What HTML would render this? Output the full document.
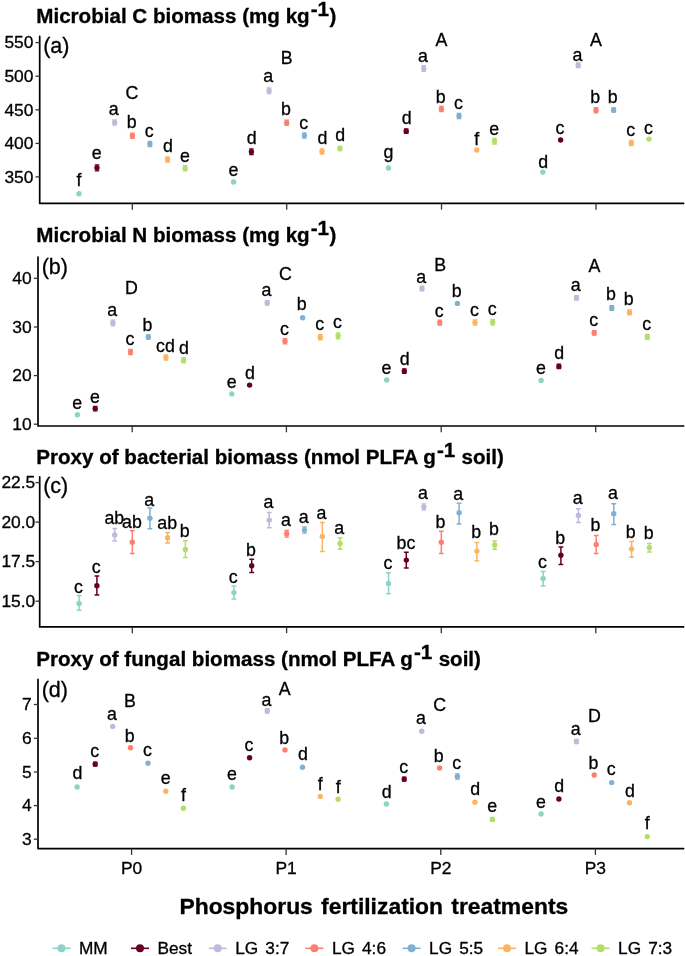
<!DOCTYPE html>
<html lang="en"><head><meta charset="utf-8"><title>Microbial biomass figure</title>
<style>html,body{margin:0;padding:0;background:#fff;overflow:hidden}svg{display:block}text{white-space:pre;stroke:#000;stroke-width:.3px}</style>
</head><body>
<svg width="685" height="956" viewBox="0 0 685 956" font-family='"Liberation Sans", sans-serif'>
<rect width="685" height="956" fill="#fff"/>
<text transform="translate(36.3 23.4) scale(1.061 1)" font-size="19.4" text-anchor="start" font-weight="bold" fill="#000">Microbial C biomass (mg kg<tspan dy="-7.2" dx="1" font-size="19.5">-1</tspan><tspan dy="7.2" dx="0.5">)</tspan></text>
<path d="M39.7 36.4V203.4H683.6" fill="none" stroke="#000" stroke-width="1.7" stroke-linejoin="round" stroke-linecap="round"/>
<path d="M35.5 42.6H39.7" stroke="#333" stroke-width="1.3"/>
<text transform="translate(33.4 48.4) scale(1.0 1)" font-size="17.4" text-anchor="end" fill="#000">550</text>
<path d="M35.5 76.2H39.7" stroke="#333" stroke-width="1.3"/>
<text transform="translate(33.4 82.0) scale(1.0 1)" font-size="17.4" text-anchor="end" fill="#000">500</text>
<path d="M35.5 109.8H39.7" stroke="#333" stroke-width="1.3"/>
<text transform="translate(33.4 115.6) scale(1.0 1)" font-size="17.4" text-anchor="end" fill="#000">450</text>
<path d="M35.5 143.4H39.7" stroke="#333" stroke-width="1.3"/>
<text transform="translate(33.4 149.2) scale(1.0 1)" font-size="17.4" text-anchor="end" fill="#000">400</text>
<path d="M35.5 176.9H39.7" stroke="#333" stroke-width="1.3"/>
<text transform="translate(33.4 182.7) scale(1.0 1)" font-size="17.4" text-anchor="end" fill="#000">350</text>
<path d="M132.3 203.4V209.7" stroke="#333" stroke-width="1.3"/>
<path d="M286.7 203.4V209.7" stroke="#333" stroke-width="1.3"/>
<path d="M441.5 203.4V209.7" stroke="#333" stroke-width="1.3"/>
<path d="M596.0 203.4V209.7" stroke="#333" stroke-width="1.3"/>
<text transform="translate(43.2 53.2) scale(1.0 1)" font-size="21.5" text-anchor="start" fill="#000">(a)</text>
<circle cx="79.0" cy="193.7" r="2.7" fill="#8DD3C7"/>
<text transform="translate(79.0 185.7) scale(1.0 1)" font-size="17.8" text-anchor="middle" fill="#000">f</text>
<path d="M94.7 164.8h4.6M94.7 170.8h4.6M97.0 164.8V170.8" stroke="#67001F" stroke-width="1.3" fill="none"/>
<circle cx="97.0" cy="167.8" r="2.7" fill="#67001F"/>
<text transform="translate(96.8 159.3) scale(1.0 1)" font-size="17.8" text-anchor="middle" fill="#000">e</text>
<path d="M112.3 120.0h4.6M112.3 125.2h4.6M114.6 120.0V125.2" stroke="#BEBADA" stroke-width="1.3" fill="none"/>
<circle cx="114.6" cy="122.6" r="2.7" fill="#BEBADA"/>
<text transform="translate(113.8 115.0) scale(1.0 1)" font-size="17.8" text-anchor="middle" fill="#000">a</text>
<path d="M130.1 133.1h4.6M130.1 138.3h4.6M132.4 133.1V138.3" stroke="#FB8072" stroke-width="1.3" fill="none"/>
<circle cx="132.4" cy="135.7" r="2.7" fill="#FB8072"/>
<text transform="translate(131.6 128.3) scale(1.0 1)" font-size="17.8" text-anchor="middle" fill="#000">b</text>
<path d="M147.6 141.4h4.6M147.6 146.6h4.6M149.9 141.4V146.6" stroke="#80B1D3" stroke-width="1.3" fill="none"/>
<circle cx="149.9" cy="144.0" r="2.7" fill="#80B1D3"/>
<text transform="translate(149.3 137.0) scale(1.0 1)" font-size="17.8" text-anchor="middle" fill="#000">c</text>
<path d="M165.2 157.0h4.6M165.2 162.2h4.6M167.5 157.0V162.2" stroke="#FDB462" stroke-width="1.3" fill="none"/>
<circle cx="167.5" cy="159.6" r="2.7" fill="#FDB462"/>
<text transform="translate(167.9 151.6) scale(1.0 1)" font-size="17.8" text-anchor="middle" fill="#000">d</text>
<path d="M182.8 165.7h4.6M182.8 170.9h4.6M185.1 165.7V170.9" stroke="#B3DE69" stroke-width="1.3" fill="none"/>
<circle cx="185.1" cy="168.3" r="2.7" fill="#B3DE69"/>
<text transform="translate(184.9 162.3) scale(1.0 1)" font-size="17.8" text-anchor="middle" fill="#000">e</text>
<circle cx="233.6" cy="182.0" r="2.7" fill="#8DD3C7"/>
<text transform="translate(233.4 176.0) scale(1.0 1)" font-size="17.8" text-anchor="middle" fill="#000">e</text>
<path d="M249.1 148.9h4.6M249.1 154.5h4.6M251.4 148.9V154.5" stroke="#67001F" stroke-width="1.3" fill="none"/>
<circle cx="251.4" cy="151.7" r="2.7" fill="#67001F"/>
<text transform="translate(251.8 143.7) scale(1.0 1)" font-size="17.8" text-anchor="middle" fill="#000">d</text>
<path d="M266.8 88.0h4.6M266.8 93.6h4.6M269.1 88.0V93.6" stroke="#BEBADA" stroke-width="1.3" fill="none"/>
<circle cx="269.1" cy="90.8" r="2.7" fill="#BEBADA"/>
<text transform="translate(268.3 82.4) scale(1.0 1)" font-size="17.8" text-anchor="middle" fill="#000">a</text>
<path d="M284.4 120.2h4.6M284.4 125.4h4.6M286.7 120.2V125.4" stroke="#FB8072" stroke-width="1.3" fill="none"/>
<circle cx="286.7" cy="122.8" r="2.7" fill="#FB8072"/>
<text transform="translate(285.9 114.8) scale(1.0 1)" font-size="17.8" text-anchor="middle" fill="#000">b</text>
<path d="M302.1 133.0h4.6M302.1 138.2h4.6M304.4 133.0V138.2" stroke="#80B1D3" stroke-width="1.3" fill="none"/>
<circle cx="304.4" cy="135.6" r="2.7" fill="#80B1D3"/>
<text transform="translate(303.8 128.6) scale(1.0 1)" font-size="17.8" text-anchor="middle" fill="#000">c</text>
<path d="M319.7 148.8h4.6M319.7 154.0h4.6M322.0 148.8V154.0" stroke="#FDB462" stroke-width="1.3" fill="none"/>
<circle cx="322.0" cy="151.4" r="2.7" fill="#FDB462"/>
<text transform="translate(322.4 144.4) scale(1.0 1)" font-size="17.8" text-anchor="middle" fill="#000">d</text>
<path d="M337.6 146.3h4.6M337.6 150.7h4.6M339.9 146.3V150.7" stroke="#B3DE69" stroke-width="1.3" fill="none"/>
<circle cx="339.9" cy="148.5" r="2.7" fill="#B3DE69"/>
<text transform="translate(340.3 141.3) scale(1.0 1)" font-size="17.8" text-anchor="middle" fill="#000">d</text>
<circle cx="388.5" cy="168.0" r="2.7" fill="#8DD3C7"/>
<text transform="translate(388.5 158.0) scale(1.0 1)" font-size="17.8" text-anchor="middle" fill="#000">g</text>
<path d="M403.9 129.0h4.6M403.9 133.4h4.6M406.2 129.0V133.4" stroke="#67001F" stroke-width="1.3" fill="none"/>
<circle cx="406.2" cy="131.2" r="2.7" fill="#67001F"/>
<text transform="translate(406.6 124.0) scale(1.0 1)" font-size="17.8" text-anchor="middle" fill="#000">d</text>
<path d="M421.5 65.7h4.6M421.5 71.3h4.6M423.8 65.7V71.3" stroke="#BEBADA" stroke-width="1.3" fill="none"/>
<circle cx="423.8" cy="68.5" r="2.7" fill="#BEBADA"/>
<text transform="translate(423.0 62.1) scale(1.0 1)" font-size="17.8" text-anchor="middle" fill="#000">a</text>
<path d="M439.1 106.4h4.6M439.1 111.6h4.6M441.4 106.4V111.6" stroke="#FB8072" stroke-width="1.3" fill="none"/>
<circle cx="441.4" cy="109.0" r="2.7" fill="#FB8072"/>
<text transform="translate(440.6 102.8) scale(1.0 1)" font-size="17.8" text-anchor="middle" fill="#000">b</text>
<path d="M456.7 113.4h4.6M456.7 118.6h4.6M459.0 113.4V118.6" stroke="#80B1D3" stroke-width="1.3" fill="none"/>
<circle cx="459.0" cy="116.0" r="2.7" fill="#80B1D3"/>
<text transform="translate(458.4 109.0) scale(1.0 1)" font-size="17.8" text-anchor="middle" fill="#000">c</text>
<circle cx="476.7" cy="150.0" r="2.7" fill="#FDB462"/>
<text transform="translate(476.7 144.6) scale(1.0 1)" font-size="17.8" text-anchor="middle" fill="#000">f</text>
<path d="M492.2 138.4h4.6M492.2 144.0h4.6M494.5 138.4V144.0" stroke="#B3DE69" stroke-width="1.3" fill="none"/>
<circle cx="494.5" cy="141.2" r="2.7" fill="#B3DE69"/>
<text transform="translate(494.3 135.2) scale(1.0 1)" font-size="17.8" text-anchor="middle" fill="#000">e</text>
<circle cx="542.8" cy="172.1" r="2.7" fill="#8DD3C7"/>
<text transform="translate(543.2 167.6) scale(1.0 1)" font-size="17.8" text-anchor="middle" fill="#000">d</text>
<circle cx="560.6" cy="140.0" r="2.7" fill="#67001F"/>
<text transform="translate(560.0 134.4) scale(1.0 1)" font-size="17.8" text-anchor="middle" fill="#000">c</text>
<path d="M575.9 62.9h4.6M575.9 67.7h4.6M578.2 62.9V67.7" stroke="#BEBADA" stroke-width="1.3" fill="none"/>
<circle cx="578.2" cy="65.3" r="2.7" fill="#BEBADA"/>
<text transform="translate(577.4 60.6) scale(1.0 1)" font-size="17.8" text-anchor="middle" fill="#000">a</text>
<path d="M593.7 107.6h4.6M593.7 112.8h4.6M596.0 107.6V112.8" stroke="#FB8072" stroke-width="1.3" fill="none"/>
<circle cx="596.0" cy="110.2" r="2.7" fill="#FB8072"/>
<text transform="translate(595.2 103.4) scale(1.0 1)" font-size="17.8" text-anchor="middle" fill="#000">b</text>
<path d="M611.3 107.8h4.6M611.3 112.2h4.6M613.6 107.8V112.2" stroke="#80B1D3" stroke-width="1.3" fill="none"/>
<circle cx="613.6" cy="110.0" r="2.7" fill="#80B1D3"/>
<text transform="translate(612.8 103.2) scale(1.0 1)" font-size="17.8" text-anchor="middle" fill="#000">b</text>
<path d="M629.0 140.4h4.6M629.0 145.6h4.6M631.3 140.4V145.6" stroke="#FDB462" stroke-width="1.3" fill="none"/>
<circle cx="631.3" cy="143.0" r="2.7" fill="#FDB462"/>
<text transform="translate(630.7 136.0) scale(1.0 1)" font-size="17.8" text-anchor="middle" fill="#000">c</text>
<circle cx="649.0" cy="139.1" r="2.7" fill="#B3DE69"/>
<text transform="translate(648.4 134.1) scale(1.0 1)" font-size="17.8" text-anchor="middle" fill="#000">c</text>
<text transform="translate(131.9 99.2) scale(1.0 1)" font-size="17.8" text-anchor="middle" fill="#000">C</text>
<text transform="translate(286.8 63.9) scale(1.0 1)" font-size="17.8" text-anchor="middle" fill="#000">B</text>
<text transform="translate(441.5 46.2) scale(1.0 1)" font-size="17.8" text-anchor="middle" fill="#000">A</text>
<text transform="translate(596.0 45.7) scale(1.0 1)" font-size="17.8" text-anchor="middle" fill="#000">A</text>
<text transform="translate(36.3 242.2) scale(1.061 1)" font-size="19.4" text-anchor="start" font-weight="bold" fill="#000">Microbial N biomass (mg kg<tspan dy="-7.2" dx="1" font-size="19.5">-1</tspan><tspan dy="7.2" dx="0.5">)</tspan></text>
<path d="M38.0 257.0V426.0H683.6" fill="none" stroke="#000" stroke-width="1.7" stroke-linejoin="round" stroke-linecap="round"/>
<path d="M33.8 278.3H38.0" stroke="#333" stroke-width="1.3"/>
<text transform="translate(31.7 284.1) scale(1.0 1)" font-size="17.4" text-anchor="end" fill="#000">40</text>
<path d="M33.8 327.0H38.0" stroke="#333" stroke-width="1.3"/>
<text transform="translate(31.7 332.8) scale(1.0 1)" font-size="17.4" text-anchor="end" fill="#000">30</text>
<path d="M33.8 375.6H38.0" stroke="#333" stroke-width="1.3"/>
<text transform="translate(31.7 381.4) scale(1.0 1)" font-size="17.4" text-anchor="end" fill="#000">20</text>
<path d="M33.8 424.2H38.0" stroke="#333" stroke-width="1.3"/>
<text transform="translate(31.7 430.0) scale(1.0 1)" font-size="17.4" text-anchor="end" fill="#000">10</text>
<path d="M132.2 426.0V432.3" stroke="#333" stroke-width="1.3"/>
<path d="M286.4 426.0V432.3" stroke="#333" stroke-width="1.3"/>
<path d="M441.2 426.0V432.3" stroke="#333" stroke-width="1.3"/>
<path d="M595.7 426.0V432.3" stroke="#333" stroke-width="1.3"/>
<text transform="translate(41.7 274.3) scale(1.0 1)" font-size="21.5" text-anchor="start" fill="#000">(b)</text>
<circle cx="77.4" cy="414.7" r="2.7" fill="#8DD3C7"/>
<text transform="translate(77.2 409.3) scale(1.0 1)" font-size="17.8" text-anchor="middle" fill="#000">e</text>
<path d="M92.9 406.4h4.6M92.9 410.8h4.6M95.2 406.4V410.8" stroke="#67001F" stroke-width="1.3" fill="none"/>
<circle cx="95.2" cy="408.6" r="2.7" fill="#67001F"/>
<text transform="translate(95.0 402.8) scale(1.0 1)" font-size="17.8" text-anchor="middle" fill="#000">e</text>
<path d="M110.6 320.2h4.6M110.6 325.8h4.6M112.9 320.2V325.8" stroke="#BEBADA" stroke-width="1.3" fill="none"/>
<circle cx="112.9" cy="323.0" r="2.7" fill="#BEBADA"/>
<text transform="translate(112.1 315.6) scale(1.0 1)" font-size="17.8" text-anchor="middle" fill="#000">a</text>
<path d="M128.2 349.4h4.6M128.2 354.6h4.6M130.5 349.4V354.6" stroke="#FB8072" stroke-width="1.3" fill="none"/>
<circle cx="130.5" cy="352.0" r="2.7" fill="#FB8072"/>
<text transform="translate(129.9 345.0) scale(1.0 1)" font-size="17.8" text-anchor="middle" fill="#000">c</text>
<path d="M146.0 334.8h4.6M146.0 339.2h4.6M148.3 334.8V339.2" stroke="#80B1D3" stroke-width="1.3" fill="none"/>
<circle cx="148.3" cy="337.0" r="2.7" fill="#80B1D3"/>
<text transform="translate(147.5 330.6) scale(1.0 1)" font-size="17.8" text-anchor="middle" fill="#000">b</text>
<path d="M163.6 355.0h4.6M163.6 360.2h4.6M165.9 355.0V360.2" stroke="#FDB462" stroke-width="1.3" fill="none"/>
<circle cx="165.9" cy="357.6" r="2.7" fill="#FDB462"/>
<text transform="translate(165.5 352.2) scale(1.0 1)" font-size="17.8" text-anchor="middle" fill="#000">cd</text>
<path d="M181.3 357.6h4.6M181.3 362.8h4.6M183.6 357.6V362.8" stroke="#B3DE69" stroke-width="1.3" fill="none"/>
<circle cx="183.6" cy="360.2" r="2.7" fill="#B3DE69"/>
<text transform="translate(184.0 354.0) scale(1.0 1)" font-size="17.8" text-anchor="middle" fill="#000">d</text>
<circle cx="231.8" cy="393.9" r="2.7" fill="#8DD3C7"/>
<text transform="translate(231.6 387.5) scale(1.0 1)" font-size="17.8" text-anchor="middle" fill="#000">e</text>
<circle cx="249.6" cy="385.1" r="2.7" fill="#67001F"/>
<text transform="translate(250.0 379.3) scale(1.0 1)" font-size="17.8" text-anchor="middle" fill="#000">d</text>
<path d="M264.9 300.6h4.6M264.9 305.0h4.6M267.2 300.6V305.0" stroke="#BEBADA" stroke-width="1.3" fill="none"/>
<circle cx="267.2" cy="302.8" r="2.7" fill="#BEBADA"/>
<text transform="translate(266.4 296.0) scale(1.0 1)" font-size="17.8" text-anchor="middle" fill="#000">a</text>
<path d="M282.7 338.7h4.6M282.7 343.9h4.6M285.0 338.7V343.9" stroke="#FB8072" stroke-width="1.3" fill="none"/>
<circle cx="285.0" cy="341.3" r="2.7" fill="#FB8072"/>
<text transform="translate(284.4 334.5) scale(1.0 1)" font-size="17.8" text-anchor="middle" fill="#000">c</text>
<circle cx="302.6" cy="317.7" r="2.7" fill="#80B1D3"/>
<text transform="translate(301.8 310.3) scale(1.0 1)" font-size="17.8" text-anchor="middle" fill="#000">b</text>
<path d="M318.0 334.6h4.6M318.0 339.8h4.6M320.3 334.6V339.8" stroke="#FDB462" stroke-width="1.3" fill="none"/>
<circle cx="320.3" cy="337.2" r="2.7" fill="#FDB462"/>
<text transform="translate(319.7 329.8) scale(1.0 1)" font-size="17.8" text-anchor="middle" fill="#000">c</text>
<path d="M335.8 332.8h4.6M335.8 338.8h4.6M338.1 332.8V338.8" stroke="#B3DE69" stroke-width="1.3" fill="none"/>
<circle cx="338.1" cy="335.8" r="2.7" fill="#B3DE69"/>
<text transform="translate(337.5 328.4) scale(1.0 1)" font-size="17.8" text-anchor="middle" fill="#000">c</text>
<circle cx="386.7" cy="379.9" r="2.7" fill="#8DD3C7"/>
<text transform="translate(386.5 373.9) scale(1.0 1)" font-size="17.8" text-anchor="middle" fill="#000">e</text>
<path d="M402.0 368.9h4.6M402.0 373.3h4.6M404.3 368.9V373.3" stroke="#67001F" stroke-width="1.3" fill="none"/>
<circle cx="404.3" cy="371.1" r="2.7" fill="#67001F"/>
<text transform="translate(404.7 364.7) scale(1.0 1)" font-size="17.8" text-anchor="middle" fill="#000">d</text>
<path d="M419.7 286.1h4.6M419.7 290.9h4.6M422.0 286.1V290.9" stroke="#BEBADA" stroke-width="1.3" fill="none"/>
<circle cx="422.0" cy="288.5" r="2.7" fill="#BEBADA"/>
<text transform="translate(421.2 282.7) scale(1.0 1)" font-size="17.8" text-anchor="middle" fill="#000">a</text>
<path d="M437.5 320.2h4.6M437.5 325.0h4.6M439.8 320.2V325.0" stroke="#FB8072" stroke-width="1.3" fill="none"/>
<circle cx="439.8" cy="322.6" r="2.7" fill="#FB8072"/>
<text transform="translate(439.2 316.6) scale(1.0 1)" font-size="17.8" text-anchor="middle" fill="#000">c</text>
<circle cx="457.4" cy="303.4" r="2.7" fill="#80B1D3"/>
<text transform="translate(456.6 297.4) scale(1.0 1)" font-size="17.8" text-anchor="middle" fill="#000">b</text>
<path d="M472.7 320.0h4.6M472.7 325.2h4.6M475.0 320.0V325.2" stroke="#FDB462" stroke-width="1.3" fill="none"/>
<circle cx="475.0" cy="322.6" r="2.7" fill="#FDB462"/>
<text transform="translate(474.4 316.0) scale(1.0 1)" font-size="17.8" text-anchor="middle" fill="#000">c</text>
<path d="M490.4 319.5h4.6M490.4 325.1h4.6M492.7 319.5V325.1" stroke="#B3DE69" stroke-width="1.3" fill="none"/>
<circle cx="492.7" cy="322.3" r="2.7" fill="#B3DE69"/>
<text transform="translate(492.1 314.9) scale(1.0 1)" font-size="17.8" text-anchor="middle" fill="#000">c</text>
<circle cx="541.1" cy="380.4" r="2.7" fill="#8DD3C7"/>
<text transform="translate(540.9 374.0) scale(1.0 1)" font-size="17.8" text-anchor="middle" fill="#000">e</text>
<path d="M556.6 364.2h4.6M556.6 368.6h4.6M558.9 364.2V368.6" stroke="#67001F" stroke-width="1.3" fill="none"/>
<circle cx="558.9" cy="366.4" r="2.7" fill="#67001F"/>
<text transform="translate(559.3 359.4) scale(1.0 1)" font-size="17.8" text-anchor="middle" fill="#000">d</text>
<path d="M574.2 295.6h4.6M574.2 300.0h4.6M576.5 295.6V300.0" stroke="#BEBADA" stroke-width="1.3" fill="none"/>
<circle cx="576.5" cy="297.8" r="2.7" fill="#BEBADA"/>
<text transform="translate(575.7 291.0) scale(1.0 1)" font-size="17.8" text-anchor="middle" fill="#000">a</text>
<path d="M591.9 330.6h4.6M591.9 335.0h4.6M594.2 330.6V335.0" stroke="#FB8072" stroke-width="1.3" fill="none"/>
<circle cx="594.2" cy="332.8" r="2.7" fill="#FB8072"/>
<text transform="translate(593.6 325.8) scale(1.0 1)" font-size="17.8" text-anchor="middle" fill="#000">c</text>
<path d="M609.5 305.6h4.6M609.5 310.4h4.6M611.8 305.6V310.4" stroke="#80B1D3" stroke-width="1.3" fill="none"/>
<circle cx="611.8" cy="308.0" r="2.7" fill="#80B1D3"/>
<text transform="translate(611.0 300.0) scale(1.0 1)" font-size="17.8" text-anchor="middle" fill="#000">b</text>
<path d="M627.2 310.0h4.6M627.2 314.8h4.6M629.5 310.0V314.8" stroke="#FDB462" stroke-width="1.3" fill="none"/>
<circle cx="629.5" cy="312.4" r="2.7" fill="#FDB462"/>
<text transform="translate(628.7 305.0) scale(1.0 1)" font-size="17.8" text-anchor="middle" fill="#000">b</text>
<path d="M645.0 334.5h4.6M645.0 339.3h4.6M647.3 334.5V339.3" stroke="#B3DE69" stroke-width="1.3" fill="none"/>
<circle cx="647.3" cy="336.9" r="2.7" fill="#B3DE69"/>
<text transform="translate(646.7 330.1) scale(1.0 1)" font-size="17.8" text-anchor="middle" fill="#000">c</text>
<text transform="translate(131.4 294.2) scale(1.0 1)" font-size="17.8" text-anchor="middle" fill="#000">D</text>
<text transform="translate(285.5 279.8) scale(1.0 1)" font-size="17.8" text-anchor="middle" fill="#000">C</text>
<text transform="translate(440.1 270.6) scale(1.0 1)" font-size="17.8" text-anchor="middle" fill="#000">B</text>
<text transform="translate(594.5 271.9) scale(1.0 1)" font-size="17.8" text-anchor="middle" fill="#000">A</text>
<text transform="translate(36.3 463.8) scale(1.061 1)" font-size="19.4" text-anchor="start" font-weight="bold" fill="#000">Proxy of bacterial biomass (nmol PLFA g<tspan dy="-7.2" dx="1" font-size="19.5">-1</tspan><tspan dy="7.2" dx="0.5"> soil)</tspan></text>
<path d="M39.7 476.8V626.9H683.6" fill="none" stroke="#000" stroke-width="1.7" stroke-linejoin="round" stroke-linecap="round"/>
<path d="M35.5 482.6H39.7" stroke="#333" stroke-width="1.3"/>
<text transform="translate(35.3 488.4) scale(1.0 1)" font-size="17.4" text-anchor="end" fill="#000">22.5</text>
<path d="M35.5 522.1H39.7" stroke="#333" stroke-width="1.3"/>
<text transform="translate(35.3 527.9) scale(1.0 1)" font-size="17.4" text-anchor="end" fill="#000">20.0</text>
<path d="M35.5 561.6H39.7" stroke="#333" stroke-width="1.3"/>
<text transform="translate(35.3 567.4) scale(1.0 1)" font-size="17.4" text-anchor="end" fill="#000">17.5</text>
<path d="M35.5 601.2H39.7" stroke="#333" stroke-width="1.3"/>
<text transform="translate(35.3 607.0) scale(1.0 1)" font-size="17.4" text-anchor="end" fill="#000">15.0</text>
<path d="M132.3 626.9V633.2" stroke="#333" stroke-width="1.3"/>
<path d="M286.6 626.9V633.2" stroke="#333" stroke-width="1.3"/>
<path d="M441.3 626.9V633.2" stroke="#333" stroke-width="1.3"/>
<path d="M595.8 626.9V633.2" stroke="#333" stroke-width="1.3"/>
<text transform="translate(43.2 493.3) scale(1.0 1)" font-size="21.5" text-anchor="start" fill="#000">(c)</text>
<path d="M76.7 595.6h4.8M76.7 610.2h4.8M79.1 595.6V610.2" stroke="#8DD3C7" stroke-width="1.5" fill="none"/>
<circle cx="79.1" cy="603.5" r="2.7" fill="#8DD3C7"/>
<text transform="translate(78.5 592.8) scale(1.0 1)" font-size="17.8" text-anchor="middle" fill="#000">c</text>
<path d="M94.5 576.0h4.8M94.5 595.0h4.8M96.9 576.0V595.0" stroke="#67001F" stroke-width="1.5" fill="none"/>
<circle cx="96.9" cy="585.7" r="2.7" fill="#67001F"/>
<text transform="translate(96.3 572.8) scale(1.0 1)" font-size="17.8" text-anchor="middle" fill="#000">c</text>
<path d="M112.3 528.4h4.8M112.3 541.0h4.8M114.7 528.4V541.0" stroke="#BEBADA" stroke-width="1.5" fill="none"/>
<circle cx="114.7" cy="534.9" r="2.7" fill="#BEBADA"/>
<text transform="translate(114.3 523.6) scale(1.0 1)" font-size="17.8" text-anchor="middle" fill="#000">ab</text>
<path d="M129.9 530.8h4.8M129.9 553.5h4.8M132.3 530.8V553.5" stroke="#FB8072" stroke-width="1.5" fill="none"/>
<circle cx="132.3" cy="542.2" r="2.7" fill="#FB8072"/>
<text transform="translate(131.9 528.2) scale(1.0 1)" font-size="17.8" text-anchor="middle" fill="#000">ab</text>
<path d="M147.5 508.0h4.8M147.5 528.7h4.8M149.9 508.0V528.7" stroke="#80B1D3" stroke-width="1.5" fill="none"/>
<circle cx="149.9" cy="518.2" r="2.7" fill="#80B1D3"/>
<text transform="translate(149.1 505.8) scale(1.0 1)" font-size="17.8" text-anchor="middle" fill="#000">a</text>
<path d="M165.2 532.5h4.8M165.2 543.0h4.8M167.6 532.5V543.0" stroke="#FDB462" stroke-width="1.5" fill="none"/>
<circle cx="167.6" cy="537.8" r="2.7" fill="#FDB462"/>
<text transform="translate(167.2 529.1) scale(1.0 1)" font-size="17.8" text-anchor="middle" fill="#000">ab</text>
<path d="M183.0 540.7h4.8M183.0 557.6h4.8M185.4 540.7V557.6" stroke="#B3DE69" stroke-width="1.5" fill="none"/>
<circle cx="185.4" cy="549.5" r="2.7" fill="#B3DE69"/>
<text transform="translate(184.6 536.9) scale(1.0 1)" font-size="17.8" text-anchor="middle" fill="#000">b</text>
<path d="M231.5 586.1h4.8M231.5 599.0h4.8M233.9 586.1V599.0" stroke="#8DD3C7" stroke-width="1.5" fill="none"/>
<circle cx="233.9" cy="592.6" r="2.7" fill="#8DD3C7"/>
<text transform="translate(233.3 583.3) scale(1.0 1)" font-size="17.8" text-anchor="middle" fill="#000">c</text>
<path d="M249.3 559.3h4.8M249.3 572.4h4.8M251.7 559.3V572.4" stroke="#67001F" stroke-width="1.5" fill="none"/>
<circle cx="251.7" cy="565.7" r="2.7" fill="#67001F"/>
<text transform="translate(250.9 555.5) scale(1.0 1)" font-size="17.8" text-anchor="middle" fill="#000">b</text>
<path d="M266.8 512.6h4.8M266.8 527.7h4.8M269.2 512.6V527.7" stroke="#BEBADA" stroke-width="1.5" fill="none"/>
<circle cx="269.2" cy="520.1" r="2.7" fill="#BEBADA"/>
<text transform="translate(268.4 508.0) scale(1.0 1)" font-size="17.8" text-anchor="middle" fill="#000">a</text>
<path d="M284.4 530.5h4.6M284.4 537.2h4.6M286.7 530.5V537.2" stroke="#FB8072" stroke-width="1.3" fill="none"/>
<circle cx="286.7" cy="533.8" r="2.7" fill="#FB8072"/>
<text transform="translate(285.9 525.8) scale(1.0 1)" font-size="17.8" text-anchor="middle" fill="#000">a</text>
<path d="M302.2 527.0h4.6M302.2 533.1h4.6M304.5 527.0V533.1" stroke="#80B1D3" stroke-width="1.3" fill="none"/>
<circle cx="304.5" cy="530.1" r="2.7" fill="#80B1D3"/>
<text transform="translate(303.7 522.7) scale(1.0 1)" font-size="17.8" text-anchor="middle" fill="#000">a</text>
<path d="M319.9 522.5h4.8M319.9 551.4h4.8M322.3 522.5V551.4" stroke="#FDB462" stroke-width="1.5" fill="none"/>
<circle cx="322.3" cy="536.5" r="2.7" fill="#FDB462"/>
<text transform="translate(321.5 518.7) scale(1.0 1)" font-size="17.8" text-anchor="middle" fill="#000">a</text>
<path d="M337.7 537.7h4.8M337.7 549.3h4.8M340.1 537.7V549.3" stroke="#B3DE69" stroke-width="1.5" fill="none"/>
<circle cx="340.1" cy="543.5" r="2.7" fill="#B3DE69"/>
<text transform="translate(339.3 533.9) scale(1.0 1)" font-size="17.8" text-anchor="middle" fill="#000">a</text>
<path d="M386.1 572.7h4.8M386.1 593.7h4.8M388.5 572.7V593.7" stroke="#8DD3C7" stroke-width="1.5" fill="none"/>
<circle cx="388.5" cy="583.5" r="2.7" fill="#8DD3C7"/>
<text transform="translate(387.9 568.9) scale(1.0 1)" font-size="17.8" text-anchor="middle" fill="#000">c</text>
<path d="M403.9 552.3h4.8M403.9 568.0h4.8M406.3 552.3V568.0" stroke="#67001F" stroke-width="1.5" fill="none"/>
<circle cx="406.3" cy="560.1" r="2.7" fill="#67001F"/>
<text transform="translate(405.9 548.5) scale(1.0 1)" font-size="17.8" text-anchor="middle" fill="#000">bc</text>
<path d="M421.5 503.8h4.6M421.5 510.2h4.6M423.8 503.8V510.2" stroke="#BEBADA" stroke-width="1.3" fill="none"/>
<circle cx="423.8" cy="507.0" r="2.7" fill="#BEBADA"/>
<text transform="translate(423.0 499.0) scale(1.0 1)" font-size="17.8" text-anchor="middle" fill="#000">a</text>
<path d="M438.9 531.2h4.8M438.9 553.4h4.8M441.3 531.2V553.4" stroke="#FB8072" stroke-width="1.5" fill="none"/>
<circle cx="441.3" cy="542.3" r="2.7" fill="#FB8072"/>
<text transform="translate(440.5 528.0) scale(1.0 1)" font-size="17.8" text-anchor="middle" fill="#000">b</text>
<path d="M456.7 503.2h4.8M456.7 523.9h4.8M459.1 503.2V523.9" stroke="#80B1D3" stroke-width="1.5" fill="none"/>
<circle cx="459.1" cy="512.8" r="2.7" fill="#80B1D3"/>
<text transform="translate(458.3 500.4) scale(1.0 1)" font-size="17.8" text-anchor="middle" fill="#000">a</text>
<path d="M474.5 542.6h4.8M474.5 560.7h4.8M476.9 542.6V560.7" stroke="#FDB462" stroke-width="1.5" fill="none"/>
<circle cx="476.9" cy="551.1" r="2.7" fill="#FDB462"/>
<text transform="translate(476.1 537.8) scale(1.0 1)" font-size="17.8" text-anchor="middle" fill="#000">b</text>
<path d="M492.3 540.9h4.8M492.3 549.3h4.8M494.7 540.9V549.3" stroke="#B3DE69" stroke-width="1.5" fill="none"/>
<circle cx="494.7" cy="545.0" r="2.7" fill="#B3DE69"/>
<text transform="translate(493.9 535.1) scale(1.0 1)" font-size="17.8" text-anchor="middle" fill="#000">b</text>
<path d="M540.7 571.5h4.8M540.7 586.1h4.8M543.1 571.5V586.1" stroke="#8DD3C7" stroke-width="1.5" fill="none"/>
<circle cx="543.1" cy="578.5" r="2.7" fill="#8DD3C7"/>
<text transform="translate(542.5 567.7) scale(1.0 1)" font-size="17.8" text-anchor="middle" fill="#000">c</text>
<path d="M558.5 547.0h4.8M558.5 564.5h4.8M560.9 547.0V564.5" stroke="#67001F" stroke-width="1.5" fill="none"/>
<circle cx="560.9" cy="555.2" r="2.7" fill="#67001F"/>
<text transform="translate(560.1 543.8) scale(1.0 1)" font-size="17.8" text-anchor="middle" fill="#000">b</text>
<path d="M576.0 508.8h4.8M576.0 522.5h4.8M578.4 508.8V522.5" stroke="#BEBADA" stroke-width="1.5" fill="none"/>
<circle cx="578.4" cy="515.5" r="2.7" fill="#BEBADA"/>
<text transform="translate(577.6 504.4) scale(1.0 1)" font-size="17.8" text-anchor="middle" fill="#000">a</text>
<path d="M593.8 535.6h4.8M593.8 553.4h4.8M596.2 535.6V553.4" stroke="#FB8072" stroke-width="1.5" fill="none"/>
<circle cx="596.2" cy="544.4" r="2.7" fill="#FB8072"/>
<text transform="translate(595.4 530.8) scale(1.0 1)" font-size="17.8" text-anchor="middle" fill="#000">b</text>
<path d="M611.4 503.8h4.8M611.4 524.5h4.8M613.8 503.8V524.5" stroke="#80B1D3" stroke-width="1.5" fill="none"/>
<circle cx="613.8" cy="513.7" r="2.7" fill="#80B1D3"/>
<text transform="translate(613.0 499.4) scale(1.0 1)" font-size="17.8" text-anchor="middle" fill="#000">a</text>
<path d="M629.2 541.5h4.8M629.2 557.2h4.8M631.6 541.5V557.2" stroke="#FDB462" stroke-width="1.5" fill="none"/>
<circle cx="631.6" cy="549.0" r="2.7" fill="#FDB462"/>
<text transform="translate(630.8 537.7) scale(1.0 1)" font-size="17.8" text-anchor="middle" fill="#000">b</text>
<path d="M647.0 543.5h4.8M647.0 552.0h4.8M649.4 543.5V552.0" stroke="#B3DE69" stroke-width="1.5" fill="none"/>
<circle cx="649.4" cy="547.6" r="2.7" fill="#B3DE69"/>
<text transform="translate(648.6 539.1) scale(1.0 1)" font-size="17.8" text-anchor="middle" fill="#000">b</text>
<text transform="translate(36.3 665.7) scale(1.061 1)" font-size="19.4" text-anchor="start" font-weight="bold" fill="#000">Proxy of fungal biomass (nmol PLFA g<tspan dy="-7.2" dx="1" font-size="19.5">-1</tspan><tspan dy="7.2" dx="0.5"> soil)</tspan></text>
<path d="M38.0 679.4V848.6H683.6" fill="none" stroke="#000" stroke-width="1.7" stroke-linejoin="round" stroke-linecap="round"/>
<path d="M33.8 704.5H38.0" stroke="#333" stroke-width="1.3"/>
<text transform="translate(31.7 710.3) scale(1.0 1)" font-size="17.4" text-anchor="end" fill="#000">7</text>
<path d="M33.8 738.3H38.0" stroke="#333" stroke-width="1.3"/>
<text transform="translate(31.7 744.1) scale(1.0 1)" font-size="17.4" text-anchor="end" fill="#000">6</text>
<path d="M33.8 772.0H38.0" stroke="#333" stroke-width="1.3"/>
<text transform="translate(31.7 777.8) scale(1.0 1)" font-size="17.4" text-anchor="end" fill="#000">5</text>
<path d="M33.8 805.6H38.0" stroke="#333" stroke-width="1.3"/>
<text transform="translate(31.7 811.4) scale(1.0 1)" font-size="17.4" text-anchor="end" fill="#000">4</text>
<path d="M33.8 839.2H38.0" stroke="#333" stroke-width="1.3"/>
<text transform="translate(31.7 845.0) scale(1.0 1)" font-size="17.4" text-anchor="end" fill="#000">3</text>
<path d="M131.6 848.6V854.9" stroke="#333" stroke-width="1.3"/>
<text transform="translate(131.6 873.9) scale(1.0 1)" font-size="17.4" text-anchor="middle" fill="#000">P0</text>
<path d="M286.1 848.6V854.9" stroke="#333" stroke-width="1.3"/>
<text transform="translate(286.1 873.9) scale(1.0 1)" font-size="17.4" text-anchor="middle" fill="#000">P1</text>
<path d="M440.8 848.6V854.9" stroke="#333" stroke-width="1.3"/>
<text transform="translate(440.8 873.9) scale(1.0 1)" font-size="17.4" text-anchor="middle" fill="#000">P2</text>
<path d="M595.4 848.6V854.9" stroke="#333" stroke-width="1.3"/>
<text transform="translate(595.4 873.9) scale(1.0 1)" font-size="17.4" text-anchor="middle" fill="#000">P3</text>
<text transform="translate(41.7 696.5) scale(1.0 1)" font-size="21.5" text-anchor="start" fill="#000">(d)</text>
<circle cx="77.1" cy="786.9" r="2.7" fill="#8DD3C7"/>
<text transform="translate(77.5 779.3) scale(1.0 1)" font-size="17.8" text-anchor="middle" fill="#000">d</text>
<path d="M92.9 762.1h4.6M92.9 766.1h4.6M95.2 762.1V766.1" stroke="#67001F" stroke-width="1.3" fill="none"/>
<circle cx="95.2" cy="764.1" r="2.7" fill="#67001F"/>
<text transform="translate(94.6 756.5) scale(1.0 1)" font-size="17.8" text-anchor="middle" fill="#000">c</text>
<circle cx="112.7" cy="726.4" r="2.7" fill="#BEBADA"/>
<text transform="translate(111.9 719.8) scale(1.0 1)" font-size="17.8" text-anchor="middle" fill="#000">a</text>
<circle cx="130.5" cy="747.7" r="2.7" fill="#FB8072"/>
<text transform="translate(129.7 741.7) scale(1.0 1)" font-size="17.8" text-anchor="middle" fill="#000">b</text>
<circle cx="148.0" cy="763.2" r="2.7" fill="#80B1D3"/>
<text transform="translate(147.4 755.6) scale(1.0 1)" font-size="17.8" text-anchor="middle" fill="#000">c</text>
<circle cx="165.8" cy="791.2" r="2.7" fill="#FDB462"/>
<text transform="translate(165.6 783.6) scale(1.0 1)" font-size="17.8" text-anchor="middle" fill="#000">e</text>
<circle cx="183.4" cy="808.2" r="2.7" fill="#B3DE69"/>
<text transform="translate(183.4 800.6) scale(1.0 1)" font-size="17.8" text-anchor="middle" fill="#000">f</text>
<circle cx="232.1" cy="787.0" r="2.7" fill="#8DD3C7"/>
<text transform="translate(231.9 780.2) scale(1.0 1)" font-size="17.8" text-anchor="middle" fill="#000">e</text>
<circle cx="249.6" cy="757.8" r="2.7" fill="#67001F"/>
<text transform="translate(249.0 750.8) scale(1.0 1)" font-size="17.8" text-anchor="middle" fill="#000">c</text>
<path d="M264.9 708.6h4.6M264.9 713.0h4.6M267.2 708.6V713.0" stroke="#BEBADA" stroke-width="1.3" fill="none"/>
<circle cx="267.2" cy="710.8" r="2.7" fill="#BEBADA"/>
<text transform="translate(266.4 705.7) scale(1.0 1)" font-size="17.8" text-anchor="middle" fill="#000">a</text>
<circle cx="285.0" cy="749.9" r="2.7" fill="#FB8072"/>
<text transform="translate(284.2 744.3) scale(1.0 1)" font-size="17.8" text-anchor="middle" fill="#000">b</text>
<circle cx="302.5" cy="767.2" r="2.7" fill="#80B1D3"/>
<text transform="translate(302.9 759.6) scale(1.0 1)" font-size="17.8" text-anchor="middle" fill="#000">d</text>
<circle cx="320.3" cy="796.4" r="2.7" fill="#FDB462"/>
<text transform="translate(320.3 789.8) scale(1.0 1)" font-size="17.8" text-anchor="middle" fill="#000">f</text>
<circle cx="338.1" cy="799.3" r="2.7" fill="#B3DE69"/>
<text transform="translate(338.1 793.1) scale(1.0 1)" font-size="17.8" text-anchor="middle" fill="#000">f</text>
<circle cx="386.4" cy="803.9" r="2.7" fill="#8DD3C7"/>
<text transform="translate(386.8 797.9) scale(1.0 1)" font-size="17.8" text-anchor="middle" fill="#000">d</text>
<path d="M401.9 777.1h4.6M401.9 781.1h4.6M404.2 777.1V781.1" stroke="#67001F" stroke-width="1.3" fill="none"/>
<circle cx="404.2" cy="779.1" r="2.7" fill="#67001F"/>
<text transform="translate(403.6 772.5) scale(1.0 1)" font-size="17.8" text-anchor="middle" fill="#000">c</text>
<circle cx="421.8" cy="731.2" r="2.7" fill="#BEBADA"/>
<text transform="translate(421.0 724.4) scale(1.0 1)" font-size="17.8" text-anchor="middle" fill="#000">a</text>
<circle cx="439.6" cy="768.0" r="2.7" fill="#FB8072"/>
<text transform="translate(438.8 761.8) scale(1.0 1)" font-size="17.8" text-anchor="middle" fill="#000">b</text>
<path d="M455.1 773.9h4.6M455.1 779.1h4.6M457.4 773.9V779.1" stroke="#80B1D3" stroke-width="1.3" fill="none"/>
<circle cx="457.4" cy="776.5" r="2.7" fill="#80B1D3"/>
<text transform="translate(456.8 768.9) scale(1.0 1)" font-size="17.8" text-anchor="middle" fill="#000">c</text>
<circle cx="474.9" cy="802.2" r="2.7" fill="#FDB462"/>
<text transform="translate(475.3 795.0) scale(1.0 1)" font-size="17.8" text-anchor="middle" fill="#000">d</text>
<path d="M490.1 817.4h4.6M490.1 821.4h4.6M492.4 817.4V821.4" stroke="#B3DE69" stroke-width="1.3" fill="none"/>
<circle cx="492.4" cy="819.4" r="2.7" fill="#B3DE69"/>
<text transform="translate(492.2 812.2) scale(1.0 1)" font-size="17.8" text-anchor="middle" fill="#000">e</text>
<circle cx="541.1" cy="813.9" r="2.7" fill="#8DD3C7"/>
<text transform="translate(540.9 808.1) scale(1.0 1)" font-size="17.8" text-anchor="middle" fill="#000">e</text>
<circle cx="558.9" cy="799.0" r="2.7" fill="#67001F"/>
<text transform="translate(559.3 791.8) scale(1.0 1)" font-size="17.8" text-anchor="middle" fill="#000">d</text>
<path d="M574.1 739.5h4.6M574.1 743.5h4.6M576.4 739.5V743.5" stroke="#BEBADA" stroke-width="1.3" fill="none"/>
<circle cx="576.4" cy="741.5" r="2.7" fill="#BEBADA"/>
<text transform="translate(575.6 735.3) scale(1.0 1)" font-size="17.8" text-anchor="middle" fill="#000">a</text>
<circle cx="594.2" cy="775.0" r="2.7" fill="#FB8072"/>
<text transform="translate(593.4 769.4) scale(1.0 1)" font-size="17.8" text-anchor="middle" fill="#000">b</text>
<circle cx="611.7" cy="782.6" r="2.7" fill="#80B1D3"/>
<text transform="translate(611.1 775.0) scale(1.0 1)" font-size="17.8" text-anchor="middle" fill="#000">c</text>
<circle cx="629.5" cy="802.8" r="2.7" fill="#FDB462"/>
<text transform="translate(629.9 797.0) scale(1.0 1)" font-size="17.8" text-anchor="middle" fill="#000">d</text>
<circle cx="647.3" cy="836.6" r="2.7" fill="#B3DE69"/>
<text transform="translate(647.3 829.0) scale(1.0 1)" font-size="17.8" text-anchor="middle" fill="#000">f</text>
<text transform="translate(129.9 707.1) scale(1.0 1)" font-size="17.8" text-anchor="middle" fill="#000">B</text>
<text transform="translate(284.7 694.8) scale(1.0 1)" font-size="17.8" text-anchor="middle" fill="#000">A</text>
<text transform="translate(439.6 711.4) scale(1.0 1)" font-size="17.8" text-anchor="middle" fill="#000">C</text>
<text transform="translate(594.5 721.9) scale(1.0 1)" font-size="17.8" text-anchor="middle" fill="#000">D</text>
<text transform="translate(179.4 914.0) scale(1.04 1)" font-size="22" text-anchor="start" font-weight="bold" word-spacing="1.8" fill="#000">Phosphorus fertilization treatments</text>
<path d="M52.5 948.3h18" stroke="#8DD3C7" stroke-width="1.6"/>
<circle cx="61.5" cy="948.3" r="4.0" fill="#8DD3C7"/>
<text transform="translate(79.0 954.0) scale(1.04 1)" font-size="16.6" text-anchor="start" word-spacing="2.2" fill="#000">MM</text>
<path d="M131.0 948.3h18" stroke="#67001F" stroke-width="1.6"/>
<circle cx="140.0" cy="948.3" r="4.0" fill="#67001F"/>
<text transform="translate(157.5 954.0) scale(1.04 1)" font-size="16.6" text-anchor="start" word-spacing="2.2" fill="#000">Best</text>
<path d="M208.7 948.3h18" stroke="#BEBADA" stroke-width="1.6"/>
<circle cx="217.7" cy="948.3" r="4.0" fill="#BEBADA"/>
<text transform="translate(235.2 954.0) scale(1.04 1)" font-size="16.6" text-anchor="start" word-spacing="2.2" fill="#000">LG 3:7</text>
<path d="M305.4 948.3h18" stroke="#FB8072" stroke-width="1.6"/>
<circle cx="314.4" cy="948.3" r="4.0" fill="#FB8072"/>
<text transform="translate(331.9 954.0) scale(1.04 1)" font-size="16.6" text-anchor="start" word-spacing="2.2" fill="#000">LG 4:6</text>
<path d="M402.6 948.3h18" stroke="#80B1D3" stroke-width="1.6"/>
<circle cx="411.6" cy="948.3" r="4.0" fill="#80B1D3"/>
<text transform="translate(429.1 954.0) scale(1.04 1)" font-size="16.6" text-anchor="start" word-spacing="2.2" fill="#000">LG 5:5</text>
<path d="M498.0 948.3h18" stroke="#FDB462" stroke-width="1.6"/>
<circle cx="507.0" cy="948.3" r="4.0" fill="#FDB462"/>
<text transform="translate(524.5 954.0) scale(1.04 1)" font-size="16.6" text-anchor="start" word-spacing="2.2" fill="#000">LG 6:4</text>
<path d="M591.6 948.3h18" stroke="#B3DE69" stroke-width="1.6"/>
<circle cx="600.6" cy="948.3" r="4.0" fill="#B3DE69"/>
<text transform="translate(618.1 954.0) scale(1.04 1)" font-size="16.6" text-anchor="start" word-spacing="2.2" fill="#000">LG 7:3</text>
</svg>
</body></html>
